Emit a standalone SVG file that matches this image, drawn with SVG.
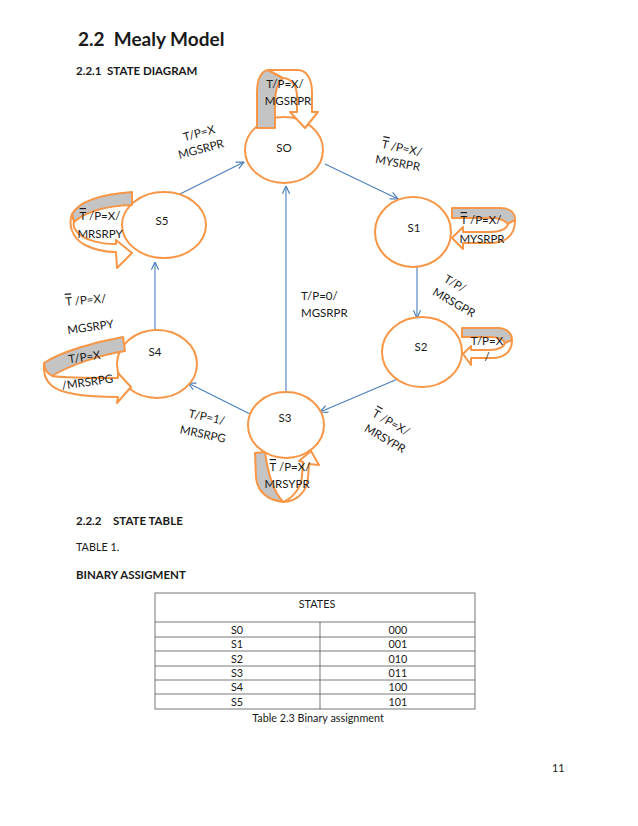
<svg xmlns="http://www.w3.org/2000/svg" width="638" height="826" viewBox="0 0 638 826">
<defs>
<style>
text{font-family:Lato,"Liberation Sans",sans-serif;fill:#1a1a1a}
.lbl{font-size:11.5px;text-anchor:middle}
.st{font-size:11.5px;text-anchor:middle}
.node{fill:#fff;stroke:#F79646;stroke-width:2}
.gray{fill:#C4C4C4;stroke:#F79646;stroke-width:2;stroke-linejoin:round}
.wht{fill:#fff;stroke:#F79646;stroke-width:2;stroke-linejoin:round}
.edge{stroke:#4A7EBB;stroke-width:1.1;fill:none;marker-end:url(#arr)}
.tb{stroke:#555;stroke-width:0.8;fill:none}
.td{font-size:10.8px;text-anchor:middle}
.ov{text-decoration:overline}
</style>
<marker id="arr" viewBox="0 0 10 10" refX="9.5" refY="5" markerWidth="9" markerHeight="9" markerUnits="userSpaceOnUse" orient="auto">
<path d="M1,1 L9.5,5 L1,9" fill="none" stroke="#4A7EBB" stroke-width="1.3"/>
</marker>
</defs>
<rect width="638" height="826" fill="#fff"/>

<text x="78" y="46" style="font-size:19px;font-weight:bold">2.2&#160; Mealy Model</text>
<text x="76" y="75" style="font-size:11.5px;font-weight:bold">2.2.1&#160; STATE DIAGRAM</text>

<g id="connectors">
<line class="edge" x1="180" y1="194" x2="244" y2="162"/>
<line class="edge" x1="325" y1="164" x2="398" y2="199"/>
<line class="edge" x1="417" y1="267" x2="417" y2="318"/>
<line class="edge" x1="400" y1="378" x2="320" y2="412"/>
<line class="edge" x1="252" y1="415" x2="188" y2="383"/>
<line class="edge" x1="155" y1="330" x2="155" y2="262"/>
<line class="edge" x1="286" y1="392" x2="286" y2="186"/>
<g class="lbl">
<text transform="translate(200,137) rotate(-15)">T/P=X</text>
<text transform="translate(202,153) rotate(-15)">MGSRPR</text>
<text transform="translate(401,152) rotate(12)"><tspan class="ov">T</tspan> /P=X/</text>
<text transform="translate(397,167) rotate(10)">MYSRPR</text>
<text transform="translate(453,287) rotate(30)">T/P/</text>
<text transform="translate(452,306) rotate(30)">MRSGPR</text>
<text transform="translate(389,426) rotate(30)"><tspan class="ov">T</tspan> /P=X/</text>
<text transform="translate(383,442) rotate(30)">MRSYPR</text>
<text transform="translate(206,421) rotate(12)">T/P=1/</text>
<text transform="translate(202,438) rotate(12)">MRSRPG</text>
<text transform="translate(86,304) rotate(-5)"><tspan class="ov">T</tspan> /P=X/</text>
<text transform="translate(91,331) rotate(-8)">MGSRPY</text>
</g>
<text x="301" y="300" style="font-size:11.5px">T/P=0/</text>
<text x="301" y="317" style="font-size:11.5px">MGSRPR</text>
</g>

<g id="S0">
<ellipse class="node" cx="284" cy="150" rx="39" ry="33"/>
<path class="gray" d="M257 128 L257 92 C257 78 262 71 268 70 L283 78 C278 82 275 92 275 104 L275 128 Z"/>
<path class="wht" d="M268 70 L298 70 C307 70 312 80 312 92 L312 112 L318 112 L305 128 L290 112 L297 112 L297 96 C297 86 291 78 283 78 Z"/>
<text class="lbl" x="285" y="88">T/P=X/</text>
<text class="lbl" x="288" y="105">MGSRPR</text>
<text class="st" x="284" y="152">SO</text>
</g>

<g id="S1">
<ellipse class="node" cx="413" cy="232" rx="38" ry="35"/>
<path class="gray" d="M452 208 L500 208 C510 208 515 213 515 220 L508 224 C505 220 498 218 490 218 L452 218 Z"/>
<path class="wht" d="M515 220 C515 236 505 243 490 243 L463 243 L463 249 L452 238 L463 227 L463 232 L490 232 C500 232 507 229 508 224 Z"/>
<text class="lbl" x="481" y="224"><tspan class="ov">T</tspan> /P=X/</text>
<text class="lbl" x="482" y="243">MYSRPR</text>
<text class="st" x="414" y="232">S1</text>
</g>

<g id="S2">
<ellipse class="node" cx="422" cy="352" rx="40" ry="35"/>
<path class="gray" d="M462 328 L498 328 C506 328 512 333 512 340 L505 343 C503 339 497 337 490 337 L462 337 Z"/>
<path class="wht" d="M512 340 C512 352 504 358 492 358 L471 358 L471 365 L463 354 L471 346 L471 350 L490 350 C498 350 504 347 505 343 Z"/>
<text class="lbl" x="487" y="345">T/P=X</text>
<text class="lbl" x="487" y="361">/</text>
<text class="st" x="421" y="351">S2</text>
</g>

<g id="S3">
<ellipse class="node" cx="286" cy="425" rx="38" ry="33"/>
<path class="gray" d="M255 453 L265 452 C268 475 274 492 283 502 C268 500 258 492 256 478 Z"/>
<path class="wht" d="M283 502 C296 502 307 492 308 478 L309 464 L319 465 L311 451 L299 461 L303 462 L302 476 C301 488 293 498 283 502 Z"/>
<text class="lbl" x="290" y="471"><tspan class="ov">T</tspan> /P=X/</text>
<text class="lbl" x="287" y="488">MRSYPR</text>
<text class="st" x="285" y="422">S3</text>
</g>

<g id="S4">
<ellipse class="node" cx="157" cy="364" rx="40" ry="34"/>
<path class="gray" d="M123 337 C95 342 60 352 44 363 C44 369 47 373 52 376 C70 365 100 355 125 351 Z"/>
<path class="wht" d="M44 363 C43 372 45 380 52 386 C62 394 90 397 118 397 L117 403 L131 387 L118 373 L118 378 C90 378 65 378 52 376 C47 373 44 369 44 363 Z"/>
<text class="lbl" transform="translate(85,361) rotate(-8)">T/P=X</text>
<text class="lbl" transform="translate(88,386) rotate(-8)">/MRSRPG</text>
<text class="st" x="155" y="356">S4</text>
</g>

<g id="S5">
<ellipse class="node" cx="164" cy="225" rx="42" ry="33"/>
<path class="gray" d="M132 192 C105 194 80 200 72 214 L74 222 C85 212 105 206 132 205 Z"/>
<path class="wht" d="M72 214 C68 225 72 238 85 245 C95 250 105 252 116 252 L117 268 L132 253 L116 240 L116 244 C100 244 85 240 78 233 C74 229 73 225 74 222 Z"/>
<text class="lbl" x="100" y="220"><tspan class="ov">T</tspan> /P=X/</text>
<text class="lbl" x="100" y="238">MRSRPY</text>
<text class="st" x="162" y="225">S5</text>
</g>

<text x="76" y="525" style="font-size:11.5px;font-weight:bold">2.2.2</text>
<text x="113" y="525" style="font-size:11.5px;font-weight:bold">STATE TABLE</text>
<text x="76" y="551" style="font-size:10.8px">TABLE 1.</text>
<text x="76" y="579" style="font-size:11.5px;font-weight:bold">BINARY ASSIGMENT</text>

<g id="table">
<rect class="tb" x="155" y="593" width="320" height="116"/>
<line class="tb" x1="155" y1="622" x2="475" y2="622"/>
<line class="tb" x1="155" y1="637" x2="475" y2="637"/>
<line class="tb" x1="155" y1="651" x2="475" y2="651"/>
<line class="tb" x1="155" y1="666" x2="475" y2="666"/>
<line class="tb" x1="155" y1="680" x2="475" y2="680"/>
<line class="tb" x1="155" y1="694" x2="475" y2="694"/>
<line class="tb" x1="320" y1="622" x2="320" y2="709"/>
<text class="td" x="317" y="608">STATES</text>
<text class="td" x="237" y="634">S0</text><text class="td" x="398" y="634">000</text>
<text class="td" x="237" y="648">S1</text><text class="td" x="398" y="648">001</text>
<text class="td" x="237" y="663">S2</text><text class="td" x="398" y="663">010</text>
<text class="td" x="237" y="677">S3</text><text class="td" x="398" y="677">011</text>
<text class="td" x="237" y="691">S4</text><text class="td" x="398" y="691">100</text>
<text class="td" x="237" y="706">S5</text><text class="td" x="398" y="706">101</text>
<text class="td" x="318" y="722">Table 2.3 Binary assignment</text>
</g>
<text x="552" y="772" style="font-size:10.8px">11</text>
</svg>
